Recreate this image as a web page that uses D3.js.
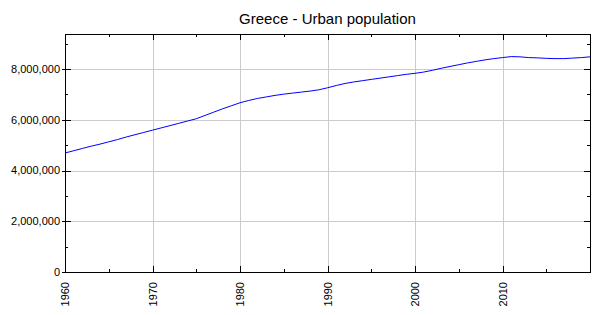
<!DOCTYPE html>
<html>
<head>
<meta charset="utf-8">
<script src="https://d3js.org/d3.v7.min.js"></script>
<style>
  body { margin: 0; background: #fff; }
  text { font-family: "Liberation Sans", Arial, sans-serif; }
</style>
</head>
<body>
<script>
// urban population, Greece
var years = d3.range(1960, 2021);
var population = [
  4690000, 4780000, 4870000, 4960000, 5040000, 5130000, 5220000, 5320000, 5410000, 5500000,
  5590000, 5680000, 5770000, 5860000, 5950000, 6040000, 6170000, 6300000, 6430000, 6550000,
  6670000, 6760000, 6840000, 6900000, 6960000, 7010000, 7050000, 7090000, 7130000, 7180000,
  7260000, 7350000, 7430000, 7490000, 7540000, 7590000, 7640000, 7690000, 7740000, 7790000,
  7830000, 7880000, 7950000, 8030000, 8100000, 8170000, 8240000, 8300000, 8360000, 8410000,
  8450000, 8490000, 8480000, 8450000, 8440000, 8420000, 8410000, 8410000, 8430000, 8450000,
  8480000
];
var xTickYears = [1960, 1970, 1980, 1990, 2000, 2010];
var yTickValues = [0, 2000000, 4000000, 6000000, 8000000];
var title = "Greece - Urban population";

var w = 600, h = 315;
var padL = 65, padR = 590, padT = 34, padB = 272;

var svg = d3.select("body").append("svg")
  .attr("width", w)
  .attr("height", h);

var x = d3.scaleLinear().domain([1960, 2020]).range([padL, padR]);
var y = d3.scaleLinear().domain([0, 9380000]).range([padB, padT]);

// grid
svg.append("g").selectAll("line").data(xTickYears.slice(1))
  .enter().append("line")
  .attr("x1", d => Math.round(x(d)) + 0.5).attr("x2", d => Math.round(x(d)) + 0.5)
  .attr("y1", padT).attr("y2", padB)
  .attr("stroke", "#cccccc");
svg.append("g").selectAll("line").data(yTickValues.slice(1))
  .enter().append("line")
  .attr("y1", d => Math.round(y(d)) + 0.5).attr("y2", d => Math.round(y(d)) + 0.5)
  .attr("x1", padL).attr("x2", padR)
  .attr("stroke", "#cccccc");

// line
var line = d3.line()
  .x((d, i) => x(years[i]))
  .y(d => y(d));
svg.append("path")
  .datum(population)
  .attr("d", line)
  .attr("fill", "none")
  .attr("stroke", "#0000ff")
  .attr("stroke-width", 1);

// frame
svg.append("rect")
  .attr("x", padL + 0.5).attr("y", padT + 0.5)
  .attr("width", padR - padL).attr("height", padB - padT)
  .attr("fill", "none").attr("stroke", "#000");

// ticks
var minorX = d3.range(1965, 2020, 10);
var minorY = d3.range(1000000, 9380000, 2000000);
var tk = svg.append("g").attr("stroke", "#000");
xTickYears.forEach(function (d) {
  var px = Math.round(x(d)) + 0.5;
  tk.append("line").attr("x1", px).attr("x2", px).attr("y1", padB).attr("y2", padB - 6);
  tk.append("line").attr("x1", px).attr("x2", px).attr("y1", padT).attr("y2", padT + 6);
});
minorX.forEach(function (d) {
  var px = Math.round(x(d)) + 0.5;
  tk.append("line").attr("x1", px).attr("x2", px).attr("y1", padB).attr("y2", padB - 3);
  tk.append("line").attr("x1", px).attr("x2", px).attr("y1", padT).attr("y2", padT + 3);
});
yTickValues.forEach(function (d) {
  var py = Math.round(y(d)) + 0.5;
  tk.append("line").attr("x1", padL - 3).attr("x2", padL + 6).attr("y1", py).attr("y2", py);
  tk.append("line").attr("x1", padR).attr("x2", padR - 6).attr("y1", py).attr("y2", py);
});
minorY.forEach(function (d) {
  var py = Math.round(y(d)) + 0.5;
  tk.append("line").attr("x1", padL).attr("x2", padL + 3).attr("y1", py).attr("y2", py);
  tk.append("line").attr("x1", padR).attr("x2", padR - 3).attr("y1", py).attr("y2", py);
});

// labels
var fmt = d3.format(",");
svg.append("g").selectAll("text").data(yTickValues)
  .enter().append("text")
  .attr("x", padL - 5)
  .attr("y", d => y(d))
  .attr("dy", "0.35em")
  .attr("text-anchor", "end")
  .attr("font-size", "11px")
  .attr("fill", "#000")
  .text(d => fmt(d));

svg.append("g").selectAll("text").data(xTickYears)
  .enter().append("text")
  .attr("transform", d => "translate(" + (x(d) + 4) + "," + (padB + 10) + ") rotate(-90)")
  .attr("text-anchor", "end")
  .attr("font-size", "11px")
  .attr("fill", "#000")
  .text(d => d);

svg.append("text")
  .attr("x", (padL + padR) / 2)
  .attr("y", 24)
  .attr("text-anchor", "middle")
  .attr("font-size", "15px")
  .attr("fill", "#000")
  .text(title);
</script>
</body>
</html>
